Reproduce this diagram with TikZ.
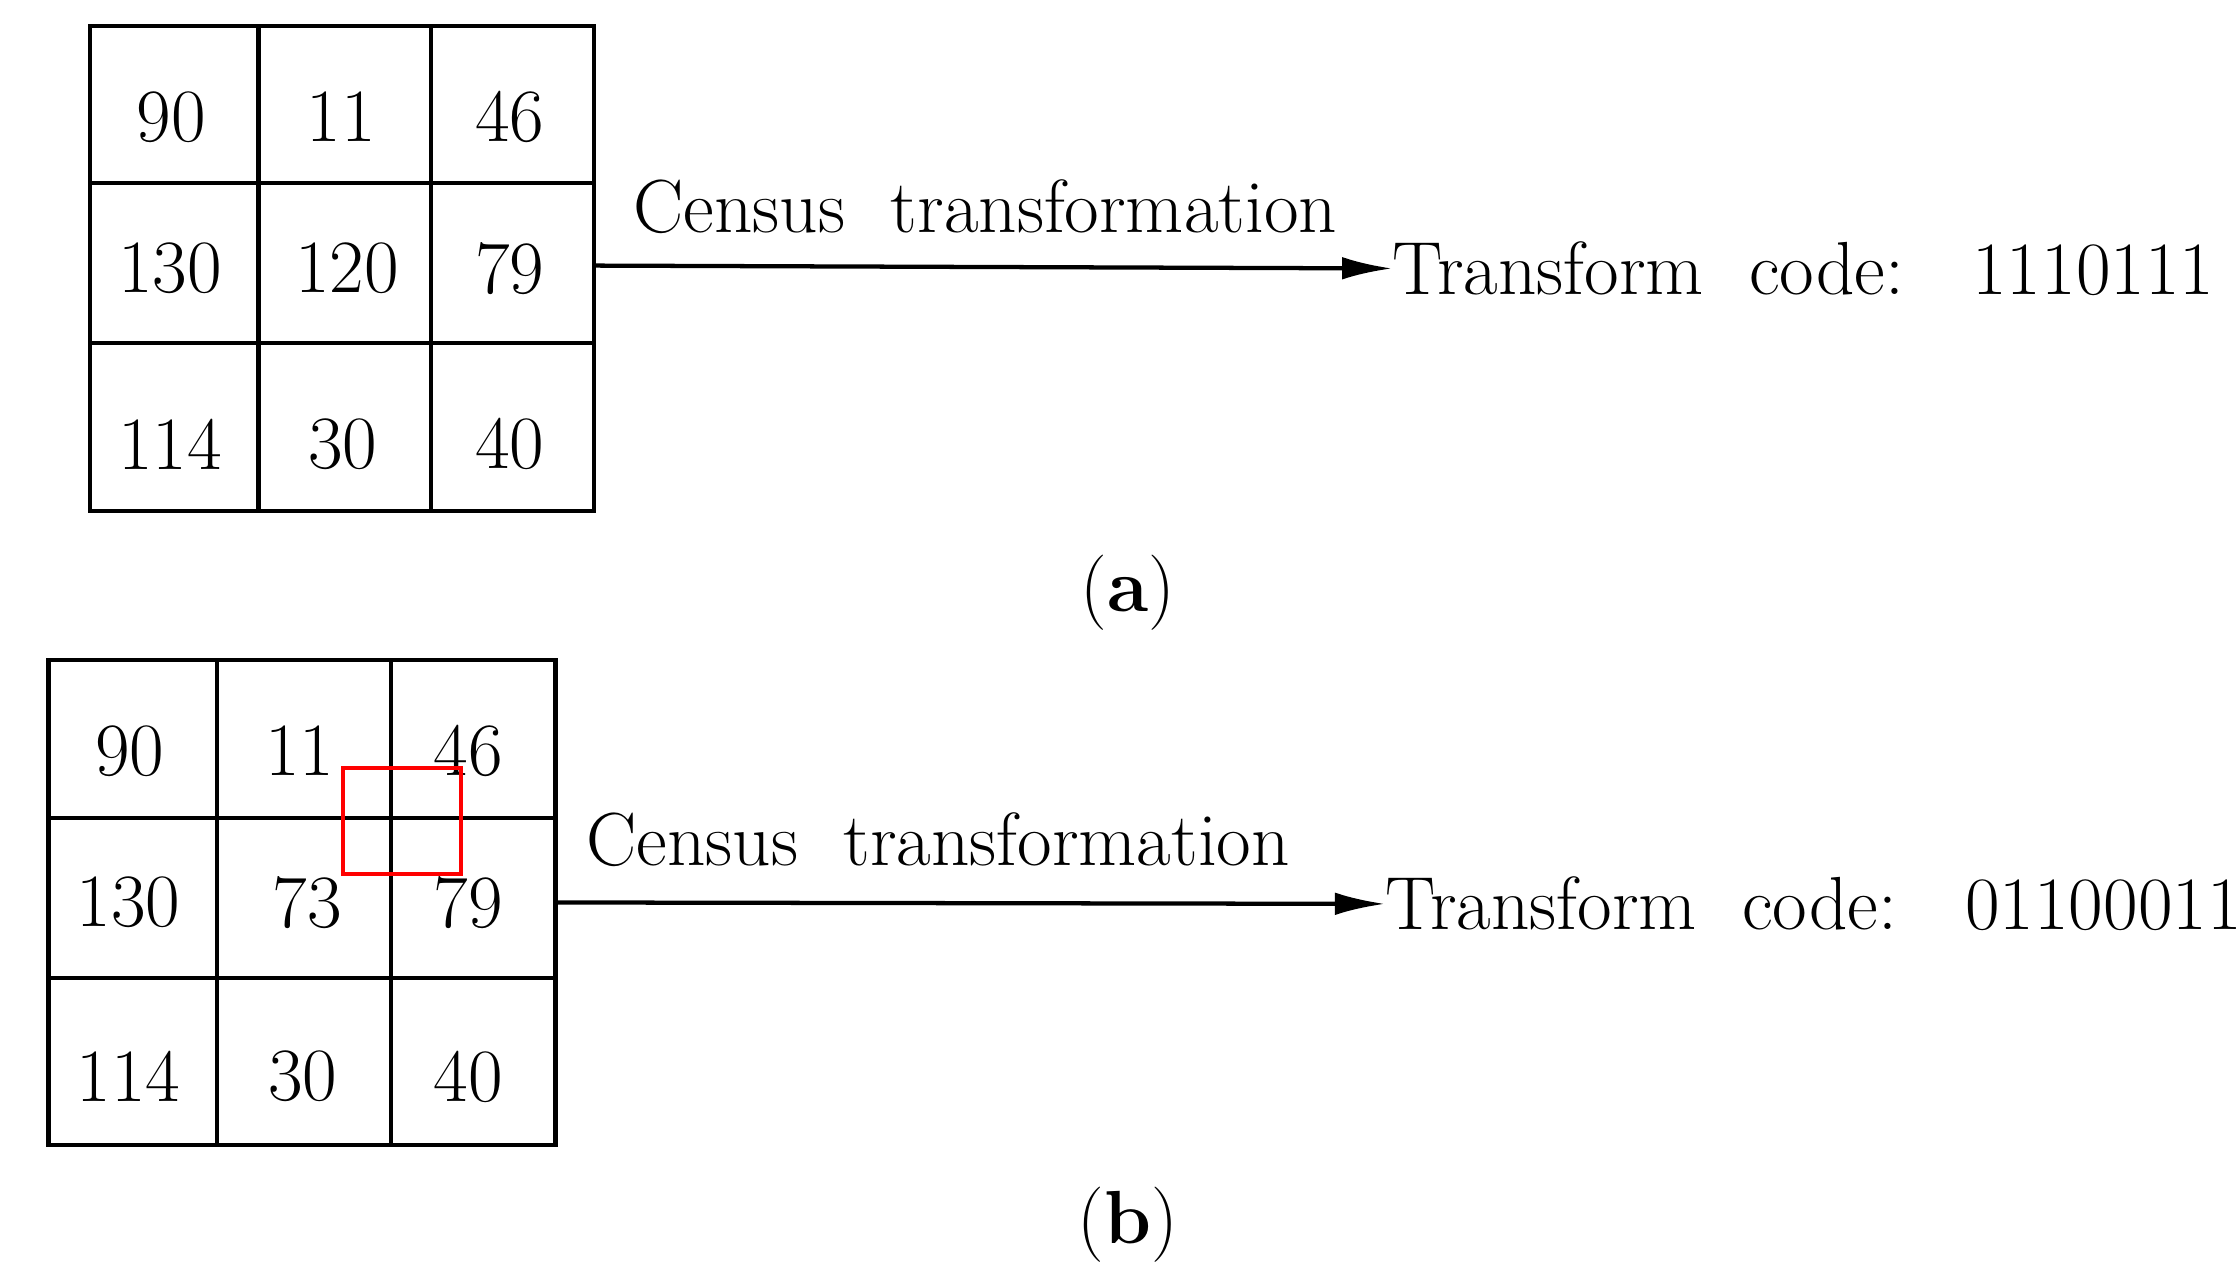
\documentclass[tikz,border=0pt]{standalone}
\usetikzlibrary{arrows.meta}
\begin{document}
\begin{tikzpicture}[x=0.02cm,y=-0.02cm,
  cell/.style={font=\fontsize{30}{36}\selectfont},
  txt/.style={font=\fontsize{30}{36}\selectfont},
  gridline/.style={line width=1.7pt},
  arr/.style={line width=1.7pt,-{Latex[length=20pt,width=9pt]}}]
\useasboundingbox (0,0) rectangle (1568,902);
% grid a
\draw[gridline] (63,18) rectangle (416,358);
\draw[gridline] (181,18)--(181,358) (302,18)--(302,358) (63,128)--(416,128) (63,240)--(416,240);
\node[cell] (a11) at (120,82) {90}; \node[cell] (a12) at (239,82) {11}; \node[cell] (a13) at (357,82) {46};
\node[cell] (a21) at (119,188) {130}; \node[cell] (a22) at (243,188) {120}; \node[cell] (a23) at (357,188) {79};
\node[cell] (a31) at (119,311) {114}; \node[cell] (a32) at (240,311) {30}; \node[cell] (a33) at (357,311) {40};
\coordinate (ga) at (416,186);
\node[txt,anchor=west,inner sep=0] (ta) at (975,188) {Transform\ \ code:\ \ \ 1110111};
\draw[arr] (ga) -- (ta.west);
\node[txt] (la) at (690,145) {Census\ \ transformation};
\node[txt] (capa) at (790,415) {(\textbf{a})};
% grid b
\draw[gridline] (34,462) rectangle (389,802);
\draw[gridline] (152,462)--(152,802) (274,462)--(274,802) (34,573)--(389,573) (34,685)--(389,685);
\node[cell] (b11) at (91,526) {90}; \node[cell] (b12) at (210,526) {11}; \node[cell] (b13) at (328,526) {46};
\node[cell] (b21) at (90,632) {130}; \node[cell] (b22) at (215,632) {73}; \node[cell] (b23) at (328,632) {79};
\node[cell] (b31) at (90,754) {114}; \node[cell] (b32) at (212,754) {30}; \node[cell] (b33) at (328,754) {40};
\draw[red,line width=1.7pt] (240,538) rectangle (323,612);
\coordinate (gb) at (389,632);
\node[txt,anchor=west,inner sep=0] (tb) at (970,633) {Transform\ \ code:\ \ \ 01100011};
\draw[arr] (gb) -- (tb.west);
\node[txt] (lb) at (657,588) {Census\ \ transformation};
\node[txt] (capb) at (790,858) {(\textbf{b})};
\end{tikzpicture}
\end{document}
